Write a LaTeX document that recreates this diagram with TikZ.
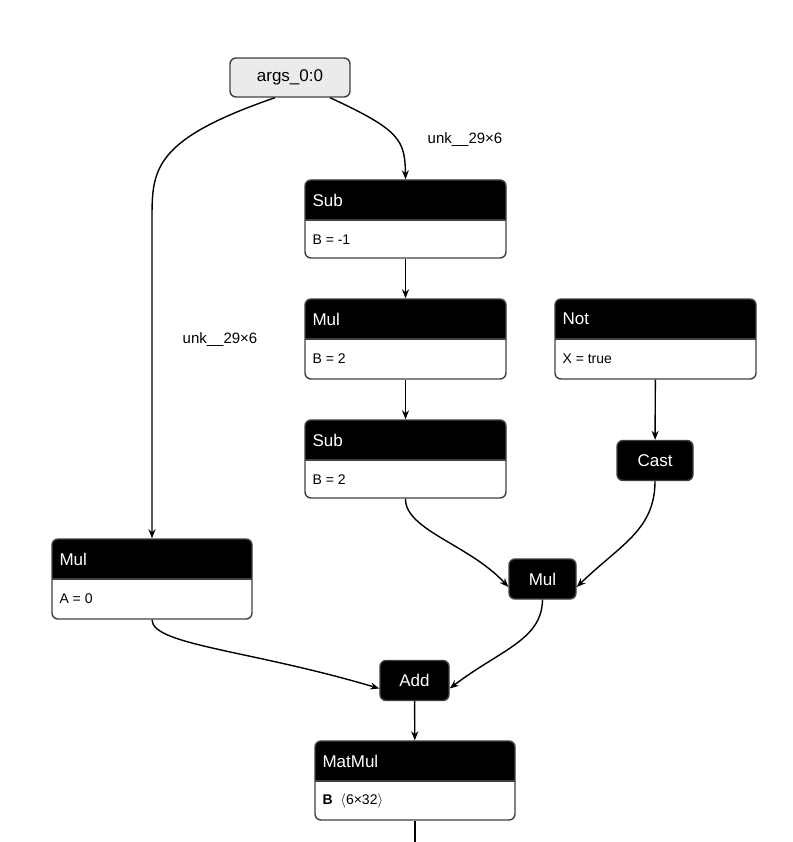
\documentclass[tikz,border=0pt]{standalone}
\usepackage{fontspec}
\setmainfont{Liberation Sans}
\usetikzlibrary{arrows.meta, positioning, calc}

% operator box: name, x1, y1, x2, y2, title, attribute
\newcommand\opnode[7]{%
  \begin{scope}
    \clip (#2,#3) rectangle (#4,#3+40);
    \fill[black, rounded corners=6pt] (#2,#3) rectangle (#4,#5);
  \end{scope}
  \node[opframe, minimum width=#4pt-#2pt, minimum height=#5pt-#3pt]
    (#1) at ({(#2+#4)/2},{(#3+#5)/2}) {};
  \draw[black!75, line width=1.2pt] (#2,#3+40) -- (#4,#3+40);
  \node[optitle] at (#2+4,#3+20) {#6};
  \node[opattr] at (#2+4,#3+60) {#7};
}

\begin{document}
\begin{tikzpicture}[
  x=1pt, y=-1pt,
  opframe/.style={rectangle, rounded corners=6pt, draw=black!75,
    line width=1.4pt, inner sep=0pt},
  optitle/.style={anchor=west, text=white, font=\fontsize{17}{20}\selectfont},
  opattr/.style={anchor=west, font=\fontsize{14}{17}\selectfont},
  smallop/.style={rectangle, rounded corners=6pt, draw=black!75,
    line width=1.4pt, fill=black, text=white,
    font=\fontsize{17}{20}\selectfont, minimum height=40pt, inner sep=0pt},
  edgelabel/.style={font=\fontsize{15}{18}\selectfont},
  arrow/.style={-{Stealth[length=9pt, width=7pt]}, line width=1.4pt}
]
  \useasboundingbox (0,0) rectangle (792,842);

  \node[rectangle, rounded corners=6pt, draw=black!75, line width=1.4pt,
    fill=black!8, minimum width=120pt, minimum height=39pt,
    font=\fontsize{17}{20}\selectfont] (args) at (290,77.5) {args\_0:0};

  \opnode{sub1}{305}{180}{506}{258}{Sub}{B = -1}
  \opnode{mul1}{305}{299}{506}{379}{Mul}{B = 2}
  \opnode{not}{555}{299}{756}{379}{Not}{X = true}
  \opnode{sub2}{305}{420}{506}{498}{Sub}{B = 2}
  \opnode{mul0}{52}{539}{252}{619}{Mul}{A = 0}
  \opnode{matmul}{315}{741}{515}{820}{MatMul}{\textbf{B} \ $\langle$6×32$\rangle$}

  \node[smallop, minimum width=76pt] (cast) at (655,460.5) {Cast};
  \node[smallop, minimum width=67pt] (mul2) at (542.5,579) {Mul};
  \node[smallop, minimum width=69pt] (add) at (414.5,680.5) {Add};
  \coordinate (out) at (415,842);

  \draw[arrow] ([xshift=-15]args.south) .. controls (152,140) and (152,170)
    .. (152,220) -- (mul0.north);
  \draw[arrow] ([xshift=40]args.south) .. controls (400,130) and (405,140)
    .. (sub1.north);
  \node[edgelabel] at (465,140) {unk\_\_29×6};
  \node[edgelabel] at (220,340) {unk\_\_29×6};

  \draw[arrow] (sub1) -- (mul1);
  \draw[arrow] (mul1) -- (sub2);
  \draw[arrow] (not) -- (cast);
  \draw[arrow] (sub2.south) .. controls (405,530) and (470,545)
    .. ([yshift=-8]mul2.west);
  \draw[arrow] (cast.south) .. controls (655,530) and (620,545)
    .. ([yshift=-8]mul2.east);
  \draw[arrow] (mul0.south) .. controls (152,645) and (250,650)
    .. ([yshift=-8]add.west);
  \draw[arrow] (mul2.south) .. controls (542,640) and (500,650)
    .. ([yshift=-8]add.east);
  \draw[arrow] (add) -- (matmul);
  \draw[line width=1.4pt] (matmul.south) -- (out);
\end{tikzpicture}
\end{document}
